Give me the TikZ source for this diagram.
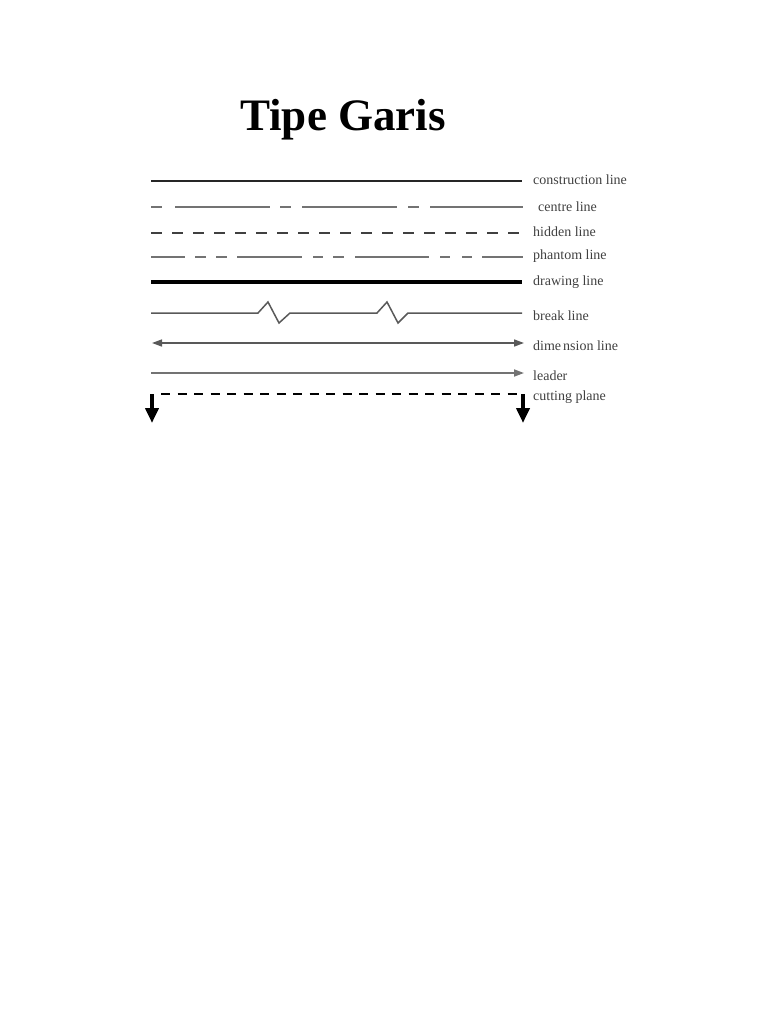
\documentclass[tikz,border=0pt]{standalone}
\usepackage{fontspec}
\setmainfont{Liberation Serif}
\usetikzlibrary{arrows.meta,calc}
\begin{document}
\begin{tikzpicture}[x=1pt,y=-1pt,
  lbl/.style={anchor=west,inner sep=0pt,text=black!75,font=\fontsize{14}{15}\selectfont},
  gline/.style={draw=black!55,line width=2.2pt},
  dline/.style={draw=black!75,line width=1.8pt}]
\useasboundingbox (0,0) rectangle (768,1024);
\node[inner sep=0pt,font=\fontsize{45}{50}\bfseries\selectfont] (title) at (343,120) {Tipe Garis};
% construction line
\coordinate (c1) at (151,181); \coordinate (c2) at (522,181);
\draw[black!85,line width=1.3pt] (c1) -- (c2);
\node[lbl] (lc) at (533,180) {construction line};
% centre line
\coordinate (e1) at (151,207); \coordinate (e2) at (523,207);
\draw[gline] (e1) -- ++(11,0) (175,207) -- (270,207) (280,207) -- (291,207)
  (302,207) -- (397,207) (408,207) -- (419,207) (430,207) -- (e2);
\node[lbl] (le) at (538,207) {centre line};
% hidden line
\coordinate (h1) at (151,233); \coordinate (h2) at (523,233);
\draw[dline,dash pattern=on 11pt off 10pt] (h1) -- (h2);
\node[lbl] (lh) at (533,232) {hidden line};
% phantom line
\coordinate (p1) at (151,257); \coordinate (p2) at (523,257);
\draw[gline,line width=2.4pt] (p1) -- (185,257) (195,257) -- (206,257) (216,257) -- (227,257)
  (237,257) -- (302,257) (313,257) -- (323,257) (333,257) -- (344,257)
  (355,257) -- (429,257) (440,257) -- (450,257) (462,257) -- (472,257) (482,257) -- (p2);
\node[lbl] (lp) at (533,256) {phantom line};
% drawing line
\coordinate (d1) at (151,282); \coordinate (d2) at (522,282);
\draw[black,line width=3.8pt] (d1) -- (d2);
\node[lbl] (ld) at (533,282) {drawing line};
% break line
\coordinate (b1) at (151,313); \coordinate (b2) at (522,313);
\draw[black!65,line width=1.5pt,line join=miter] (b1) -- (258,313) -- (268,302) -- (279,323) -- (290,313) -- (377,313) -- (387,302) -- (398,323) -- (408,313) -- (b2);
\node[lbl] (lb) at (533,316) {break line};
% dimension line
\coordinate (m1) at (152,343); \coordinate (m2) at (524,343);
\draw[black!65,line width=1.5pt,{Triangle[length=10pt,width=7pt]}-{Triangle[length=10pt,width=7pt]}] (m1) -- (m2);
\node[lbl] (lm) at (533,346) {dime\hspace{2pt}nsion line};
% leader
\coordinate (r1) at (151,373); \coordinate (r2) at (524,373);
\draw[black!55,line width=1.7pt,-{Triangle[length=10pt,width=7pt]}] (r1) -- (r2);
\node[lbl] (lr) at (533,376) {leader};
% cutting plane
\coordinate (k1) at (152,394); \coordinate (k2) at (523,394);
\coordinate (k1d) at (152,423); \coordinate (k2d) at (523,423);
\draw[black,line width=2.8pt,dash pattern=on 9pt off 7.5pt] ($(k1)+(9,0)$) -- ($(k2)+(-4,0)$);
\draw[black,line width=4pt,-{Triangle[length=15pt,width=13pt]}] (k1) -- (k1d);
\draw[black,line width=4pt,-{Triangle[length=15pt,width=13pt]}] (k2) -- (k2d);
\node[lbl] (lk) at (533,397) {cutting plane};
\end{tikzpicture}
\end{document}
